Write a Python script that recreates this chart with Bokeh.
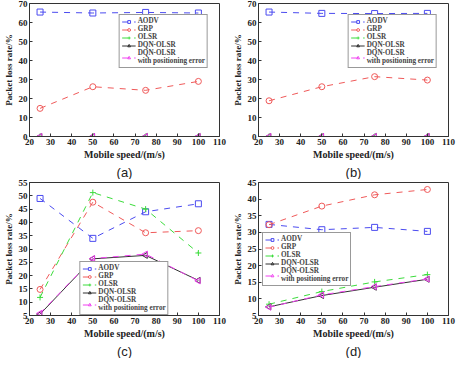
from bokeh.plotting import figure
from bokeh.layouts import gridplot
from bokeh.models import Title, FixedTicker, Range1d
from bokeh.embed import file_html
from bokeh.resources import INLINE

speed = [25, 50, 75, 100]
x_ticks = [20, 30, 40, 50, 60, 70, 80, 90, 100, 110]
names = ["AODV", "GRP", "OLSR", "DQN-OLSR", "DQN-OLSR\nwith positioning error"]

# (a)
a_aodv = [65.5, 65.0, 65.3, 65.0]
a_grp = [14.8, 26.2, 24.3, 29.0]
a_olsr = [0, 0, 0, 0]
a_dqn = [0, 0, 0, 0]
a_dqn_err = [0, 0, 0, 0]
# (b)
b_aodv = [65.5, 64.8, 64.7, 64.8]
b_grp = [18.8, 26.2, 31.5, 29.7]
b_olsr = [0, 0, 0, 0]
b_dqn = [0, 0, 0, 0]
b_dqn_err = [0, 0, 0, 0]
# (c)
c_aodv = [49.0, 34.0, 44.0, 47.0]
c_grp = [14.8, 47.6, 36.1, 36.9]
c_olsr = [11.8, 51.2, 45.0, 28.5]
c_dqn = [5.5, 26.3, 27.6, 18.2]
c_dqn_err = [5.8, 26.4, 28.1, 18.0]
# (d)
d_aodv = [32.4, 30.8, 31.5, 30.3]
d_grp = [32.3, 37.9, 41.3, 42.9]
d_olsr = [8.4, 12.2, 15.1, 17.3]
d_dqn = [7.6, 11.0, 13.5, 15.9]
d_dqn_err = [7.5, 11.2, 13.7, 16.0]

colors = ["#4b4bf0", "#f05a5a", "#3cdc3c", "#303030", "#f040f0"]
markers = ["square", "circle", "cross", "triangle", "triangle"]
dashes = ["dashed", "dashed", "dashed", "solid", "dashed"]

SERIF = "Liberation Serif"


def panel(series, ymin, ymax, ystep, caption, loc, margin):
    p = figure(width=229, height=179, output_backend="svg", toolbar_location=None,
               x_range=Range1d(20, 110), y_range=Range1d(ymin, ymax),
               min_border_left=4, min_border_right=10, min_border_top=3, min_border_bottom=0)
    p.xgrid.visible = False
    p.ygrid.visible = False
    p.outline_line_color = "#333333"
    p.xaxis.ticker = FixedTicker(ticks=x_ticks)
    p.yaxis.ticker = FixedTicker(ticks=list(range(ymin, ymax + 1, ystep)))
    for ax in (p.xaxis, p.yaxis):
        ax.major_tick_in = 3
        ax.major_tick_out = 0
        ax.minor_tick_out = 0
        ax.minor_tick_in = 0
        ax.major_label_text_font = SERIF
        ax.major_label_text_font_style = "bold"
        ax.major_label_text_font_size = "9px"
        ax.major_label_text_color = "#222222"
        ax.axis_label_text_font = SERIF
        ax.axis_label_text_font_style = "bold"
        ax.axis_label_text_color = "#222222"
        ax.axis_line_color = "#333333"
        ax.major_tick_line_color = "#333333"
    p.xaxis.axis_label = "Mobile speed/(m/s)"
    p.xaxis.axis_label_text_font_size = "10px"
    p.xaxis.axis_label_standoff = 1
    p.xaxis.major_label_standoff = 2
    p.yaxis.axis_label = "Packet loss rate/%"
    p.yaxis.axis_label_text_font_size = "9px"
    p.yaxis.axis_label_standoff = 2
    p.yaxis.major_label_standoff = 2
    for ys, name, col, mk, dash in zip(series, names, colors, markers, dashes):
        p.line(speed, ys, line_color=col, line_dash=dash, line_width=1, legend_label=name)
        kw = dict(marker=mk, size=6, line_color=col, fill_color=None, line_width=1, legend_label=name)
        if mk == "triangle":
            kw["angle"] = 1.5708
        p.scatter(speed, ys, **kw)
    lg = p.legend[0]
    lg.location = loc
    lg.margin = margin
    lg.label_text_font = SERIF
    lg.label_text_font_style = "bold"
    lg.label_text_font_size = "7.2px"
    lg.label_height = 7
    lg.label_width = 60
    lg.label_standoff = 2
    lg.glyph_height = 7
    lg.glyph_width = 14
    lg.spacing = 0
    lg.padding = 2
    lg.border_line_color = "#333333"
    lg.border_line_width = 1
    lg.background_fill_alpha = 1
    p.add_layout(Title(text=caption, align="center", text_font="Liberation Sans", standoff=0,
                       text_font_style="normal", text_font_size="13px", text_color="#222222"), "below")
    return p


pa = panel([a_aodv, a_grp, a_olsr, a_dqn, a_dqn_err], 0, 70, 10, "(a)", "top_right", 11)
pb = panel([b_aodv, b_grp, b_olsr, b_dqn, b_dqn_err], 0, 70, 10, "(b)", "top_right", 11)
pc = panel([c_aodv, c_grp, c_olsr, c_dqn, c_dqn_err], 5, 55, 5, "(c)", "bottom_center", 0)
pd = panel([d_aodv, d_grp, d_olsr, d_dqn, d_dqn_err], 5, 45, 5, "(d)", (4, 29), 0)

grid = gridplot([[pa, pb], [pc, pd]], toolbar_location=None)
open("out.html", "w").write(file_html(grid, INLINE))
